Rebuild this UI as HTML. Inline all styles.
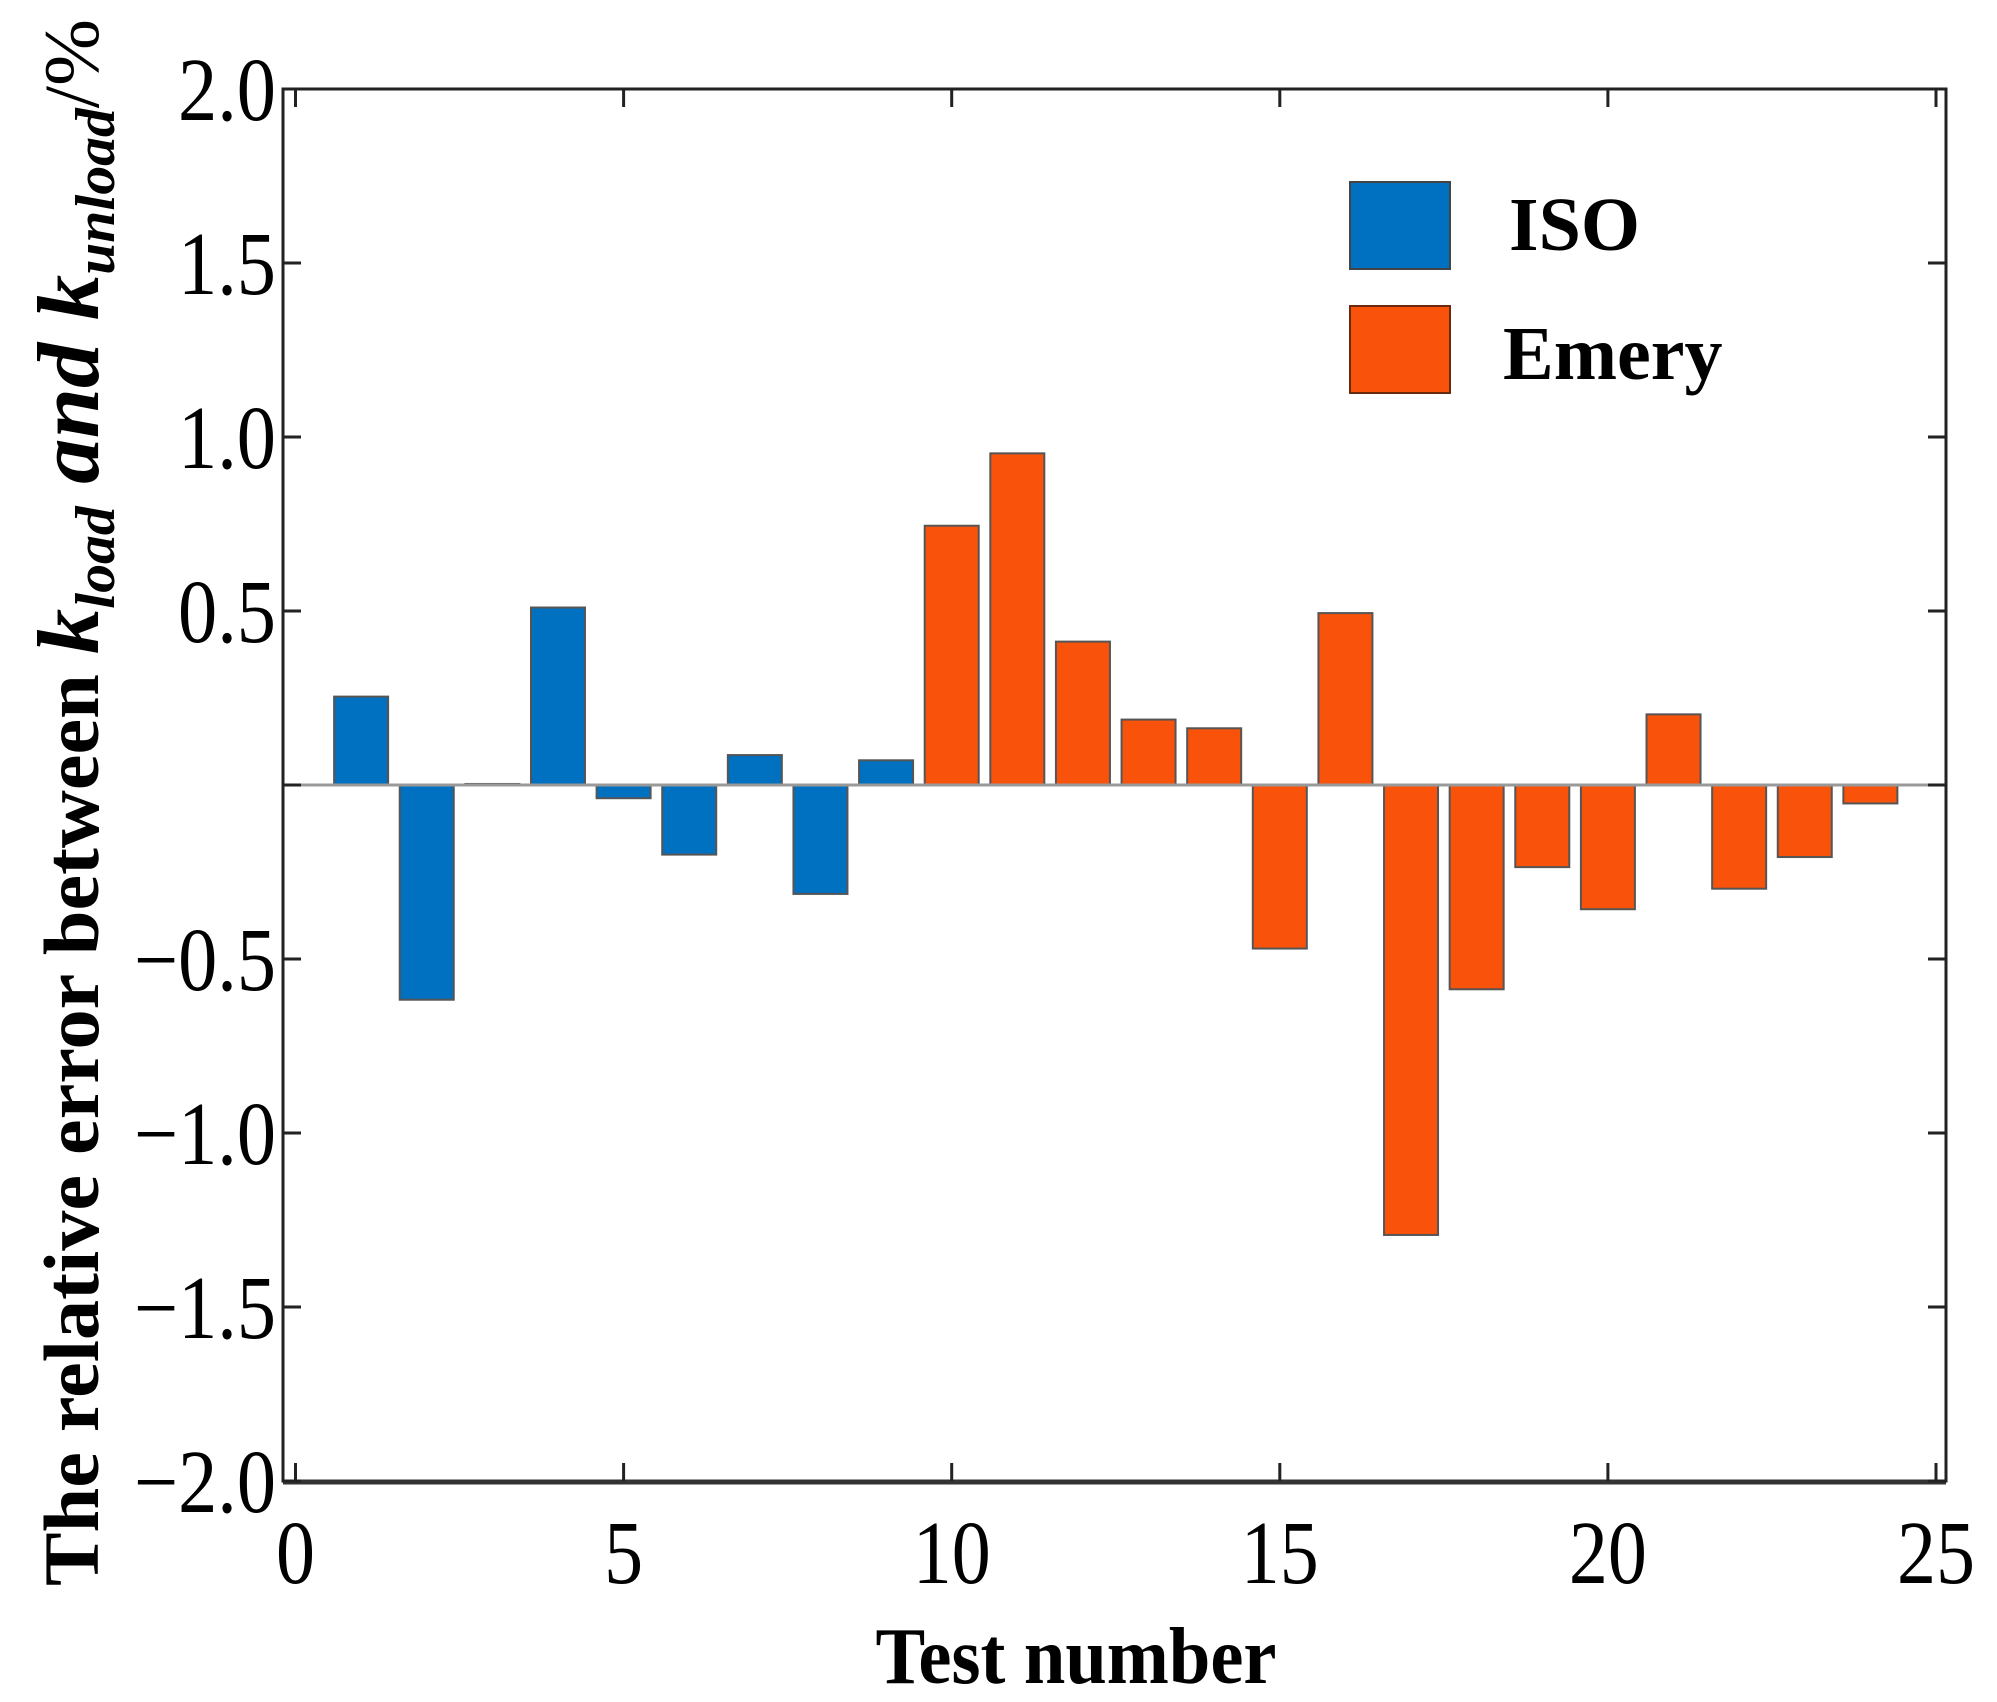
<!DOCTYPE html>
<html><head><meta charset="utf-8"><style>html,body{margin:0;padding:0;background:#fff}svg{display:block}</style></head>
<body>
<svg width="1997" height="1702" viewBox="0 0 1997 1702" xmlns="http://www.w3.org/2000/svg" font-family="'Liberation Serif', serif">
<rect width="1997" height="1702" fill="#fff"/>
<g id="bars" stroke="#555" stroke-width="2"></g>
<line x1="283" y1="785" x2="1946" y2="785" stroke="#999" stroke-width="3"/>
<rect x="283" y="89" width="1663" height="1392" fill="none" stroke="#222" stroke-width="3"/>
<line x1="283" y1="1482" x2="1946" y2="1482" stroke="#333" stroke-width="5"/>
<g id="ticks" stroke="#222" stroke-width="3"></g>
<g id="lbl" font-size="90" fill="#000"></g>
<rect x="1350" y="182" width="100" height="87" fill="#0070C0" stroke="#444" stroke-width="2"/>
<rect x="1350" y="306" width="100" height="87" fill="#F9520A" stroke="#6a2a10" stroke-width="2"/>
<text x="1509" y="250" font-size="76" font-weight="bold">ISO</text>
<text x="1503" y="379" font-size="76" font-weight="bold">Emery</text>
<text x="1076" y="1683" font-size="80" font-weight="bold" text-anchor="middle" textLength="401" lengthAdjust="spacingAndGlyphs">Test number</text>
<text transform="translate(98,1586) rotate(-90)" font-size="78" font-weight="bold" textLength="1567" lengthAdjust="spacingAndGlyphs">The relative error between <tspan font-style="italic" font-size="88">k</tspan><tspan font-style="italic" font-size="56" dy="16">load</tspan><tspan font-style="italic" font-size="88" dy="-16"> and k</tspan><tspan font-style="italic" font-size="56" dy="16">unload</tspan><tspan font-weight="normal" font-size="78" dy="-16">/%</tspan></text>
<script>
(function(){
var ns="http://www.w3.org/2000/svg";
var v=[0.254,-0.617,0.003,0.51,-0.038,-0.2,0.086,-0.313,0.071,0.745,0.953,0.412,0.188,0.163,-0.47,0.494,-1.293,-0.587,-0.236,-0.357,0.203,-0.298,-0.207,-0.053];
function X(t){return 295.5+t*65.62;}function Y(t){return 785-t*348;}
var g=document.getElementById('bars');
v.forEach(function(val,i){var n=i+1;var r=document.createElementNS(ns,'rect');
var y1=Y(Math.max(val,0)),y2=Y(Math.min(val,0));
r.setAttribute('x',X(n)-27);r.setAttribute('width',54);r.setAttribute('y',y1);r.setAttribute('height',Math.max(y2-y1,1));
r.setAttribute('fill',n<=9?'#0070C0':'#F9520A');g.appendChild(r);});
var tk=document.getElementById('ticks'),lb=document.getElementById('lbl');
function line(a,b,c,d){var l=document.createElementNS(ns,'line');l.setAttribute('x1',a);l.setAttribute('y1',b);l.setAttribute('x2',c);l.setAttribute('y2',d);tk.appendChild(l);}
function txt(x,y,s,anc,w){var t=document.createElementNS(ns,'text');t.setAttribute('x',x);t.setAttribute('y',y);t.setAttribute('text-anchor',anc);t.setAttribute('textLength',w);t.setAttribute('lengthAdjust','spacingAndGlyphs');t.textContent=s;lb.appendChild(t);}
for(var i=0;i<=5;i++){var x=X(i*5);line(x,1481,x,1463);line(x,89,x,107);var s0=String(i*5);txt(x,1583,s0,'middle',s0.length*39);}
for(var j=-4;j<=4;j++){var val=j*0.5,y=Y(val);line(283,y,301,y);line(1946,y,1928,y);
if(j!==0){var s=(val<0?'\u2212':'')+Math.abs(val).toFixed(1);txt(276,y+31,s,'end',val<0?142:98);}}
})();
</script>
</svg>
</body></html>
